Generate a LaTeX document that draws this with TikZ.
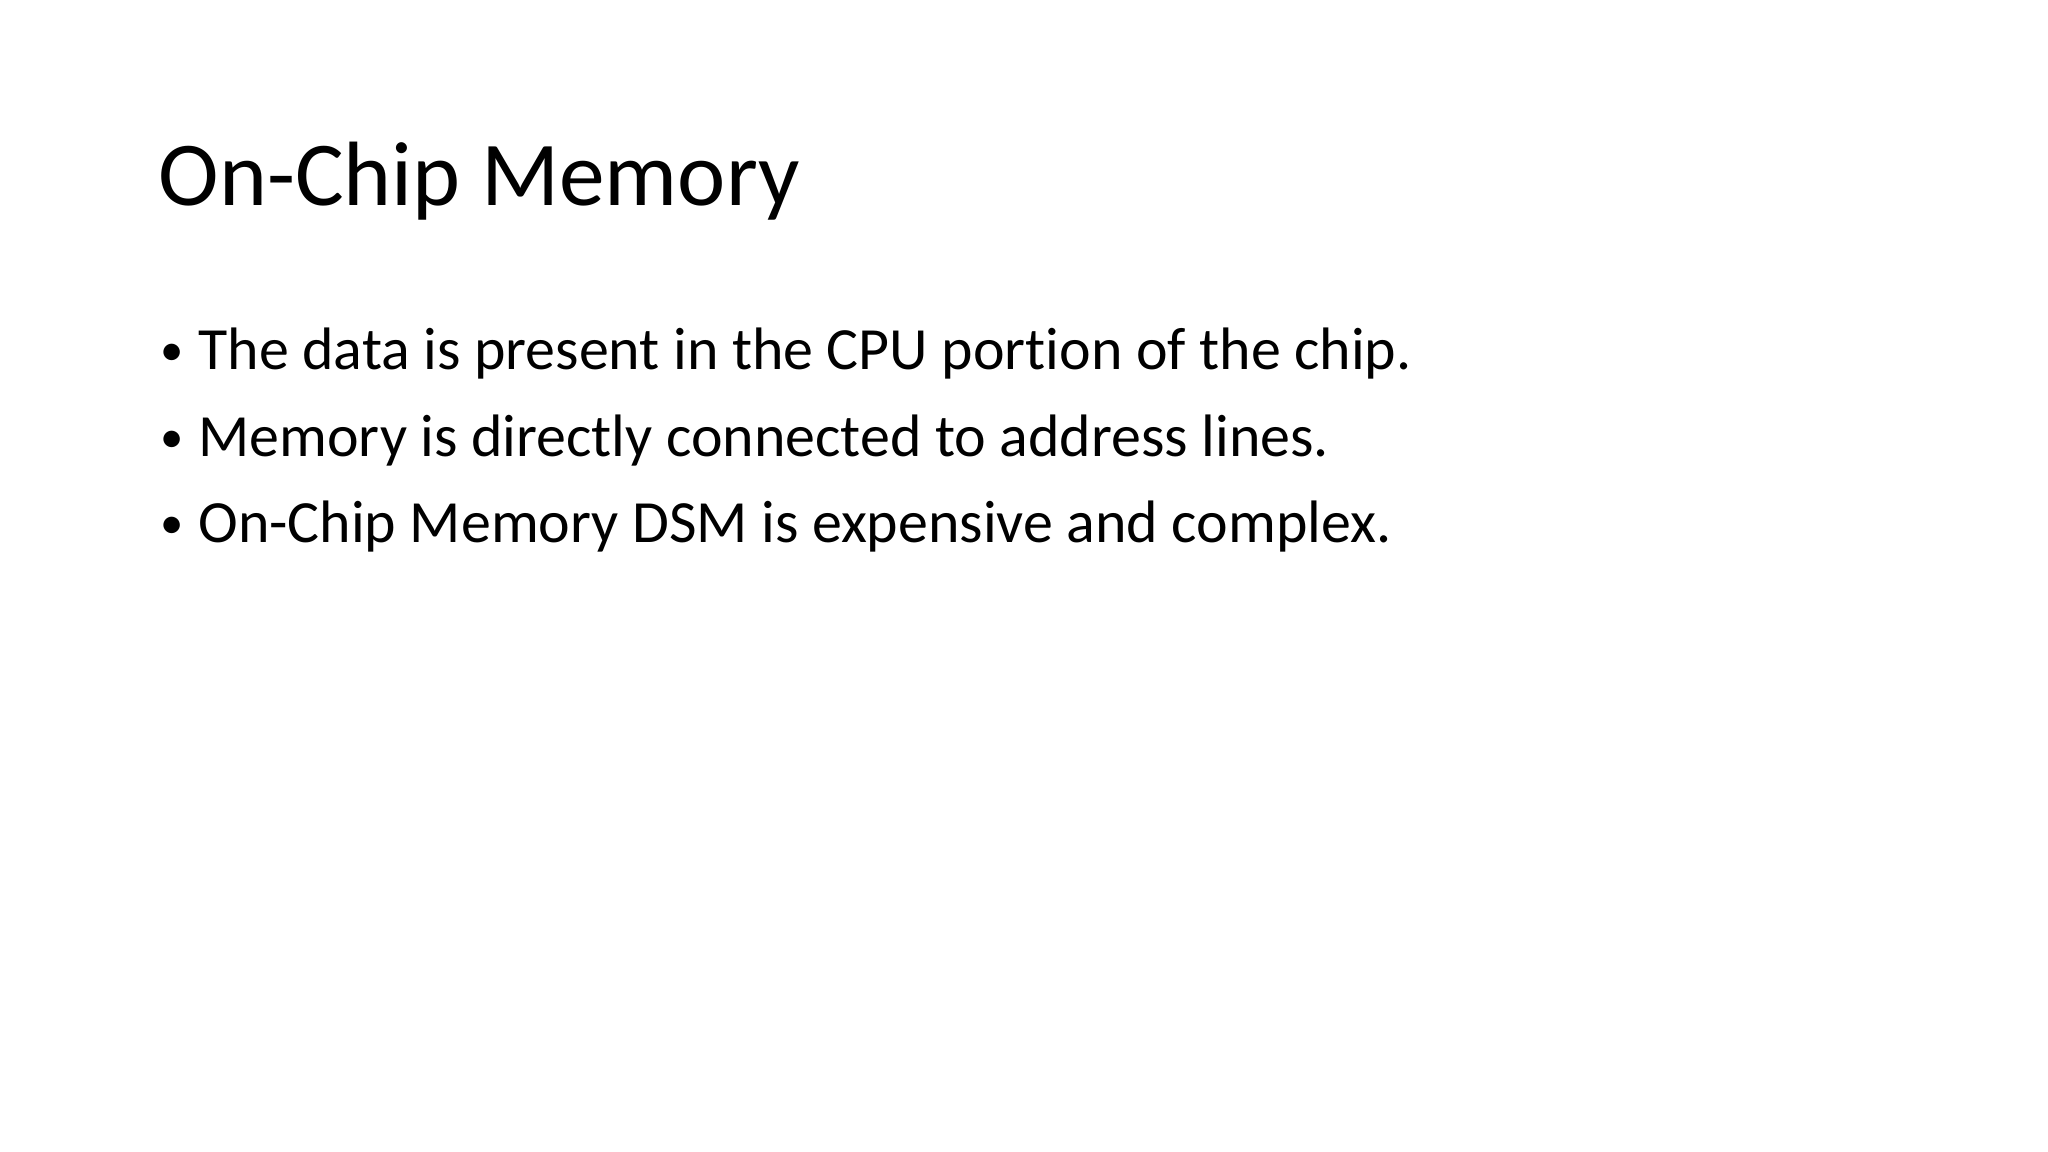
\documentclass[tikz,border=0pt]{standalone}
\usepackage{fontspec}
\setmainfont[Ligatures=NoCommon]{Carlito}
\begin{document}
\begin{tikzpicture}[x=0.01cm,y=-0.01cm,
    slidetitle/.style={anchor=base west,inner sep=0pt,font=\fontsize{19.6pt}{24pt}\selectfont},
    bullettext/.style={anchor=base west,inner sep=0pt,font=\fontsize{12.85pt}{16pt}\selectfont},
    bulletdot/.style={anchor=base west,inner sep=0pt,font=\fontsize{10pt}{12pt}\selectfont}]
  \useasboundingbox (0,0) rectangle (1545,869);

  \node[slidetitle] (title) at (119,155) {On-Chip Memory};

  \foreach \txt [count=\i] in {The data is present in the CPU portion of the chip.,
      Memory is directly connected to address lines.,
      On-Chip Memory DSM is expensive and complex.}{
    \node[bulletdot] (dot\i) at (120,{276+65*(\i-1)}) {\textbullet};
    \node[bullettext] (item\i) at (149,{279+65*(\i-1)}) {\txt};
  }
\end{tikzpicture}
\end{document}
